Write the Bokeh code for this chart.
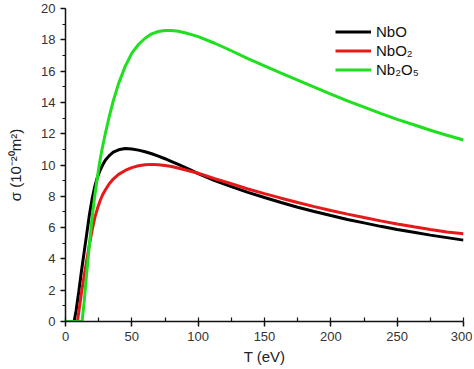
from bokeh.plotting import figure
from bokeh.models import Range1d, Legend, LegendItem, SingleIntervalTicker
from bokeh.embed import file_html
from bokeh.resources import INLINE

# Data
T_nbo = [0, 6.5, 8, 10, 12, 14, 16, 18, 20, 22, 24, 26, 28, 30, 33, 36, 40, 45, 50, 55, 60,
         65, 70, 75, 80, 85, 90, 95, 100, 112.5, 125, 137.5, 150, 162.5, 175, 187.5, 200,
         212.5, 225, 237.5, 250, 262.5, 275, 287.5, 300]
s_nbo = [0, 0, 0.7, 1.9, 3.2, 4.4, 5.6, 6.8, 7.8, 8.6, 9.2, 9.65, 10.0, 10.3, 10.6, 10.82,
         10.97, 11.05, 11.02, 10.95, 10.85, 10.72, 10.57, 10.4, 10.22, 10.04, 9.85, 9.65,
         9.45, 9.0, 8.62, 8.25, 7.92, 7.6, 7.3, 7.03, 6.77, 6.52, 6.3, 6.08, 5.88, 5.7,
         5.52, 5.36, 5.2]

T_nbo2 = [0, 9, 10, 12, 14, 16, 18, 20, 22, 24, 26, 28, 30, 33, 36, 40, 45, 50, 55, 60, 65,
          70, 75, 80, 90, 100, 112.5, 125, 137.5, 150, 162.5, 175, 187.5, 200, 212.5, 225,
          237.5, 250, 262.5, 275, 287.5, 300]
s_nbo2 = [0, 0, 0.6, 1.8, 2.9, 3.9, 4.9, 5.8, 6.6, 7.2, 7.7, 8.1, 8.4, 8.8, 9.1, 9.4, 9.65,
          9.83, 9.95, 10.02, 10.04, 10.02, 9.97, 9.9, 9.7, 9.47, 9.12, 8.8, 8.47, 8.17, 7.88,
          7.6, 7.34, 7.09, 6.86, 6.64, 6.43, 6.23, 6.05, 5.88, 5.72, 5.6]

T_nb2o5 = [0, 12.5, 14, 16, 18, 20, 22, 24, 26, 28, 30, 33, 36, 40, 45, 50, 55, 60, 65, 70,
           75, 80, 85, 90, 95, 100, 112.5, 125, 137.5, 150, 162.5, 175, 187.5, 200, 212.5,
           225, 237.5, 250, 262.5, 275, 287.5, 300]
s_nb2o5 = [0, 0, 1.2, 3.1, 4.9, 6.6, 8.0, 9.2, 10.3, 11.2, 12.0, 13.1, 14.1, 15.2, 16.3,
           17.15, 17.7, 18.1, 18.38, 18.53, 18.6, 18.6, 18.55, 18.45, 18.33, 18.2, 17.78,
           17.3, 16.8, 16.33, 15.87, 15.42, 14.97, 14.53, 14.1, 13.7, 13.3, 12.92, 12.57,
           12.22, 11.9, 11.6]

labels = ["NbO", "NbO\u2082", "Nb\u2082O\u2085"]
colors = ["#000000", "#e81818", "#1ee01e"]

FONT = "Liberation Sans"

p = figure(width=472, height=367, output_backend="svg", toolbar_location=None,
           x_range=Range1d(0, 300), y_range=Range1d(0, 20),
           min_border_left=65, min_border_right=9, min_border_top=8, min_border_bottom=46)
p.outline_line_color = None
p.xgrid.visible = False
p.ygrid.visible = False
p.background_fill_color = "white"

r1 = p.line(T_nbo, s_nbo, line_color=colors[0], line_width=3)
r2 = p.line(T_nbo2, s_nbo2, line_color=colors[1], line_width=3)
r3 = p.line(T_nb2o5, s_nb2o5, line_color=colors[2], line_width=3)

p.xaxis.ticker = SingleIntervalTicker(interval=50, num_minor_ticks=2)
p.yaxis.ticker = SingleIntervalTicker(interval=2, num_minor_ticks=2)

for ax in (p.xaxis[0], p.yaxis[0]):
    ax.axis_line_color = "#111111"
    ax.axis_line_width = 1.5
    ax.major_tick_line_color = "#111111"
    ax.minor_tick_line_color = "#111111"
    ax.major_tick_line_width = 1.5
    ax.minor_tick_line_width = 1.2
    ax.major_label_text_font = FONT
    ax.major_label_text_font_size = "13px"
    ax.major_label_text_color = "#333333"
    ax.axis_label_text_font = FONT
    ax.axis_label_text_font_size = "15px"
    ax.axis_label_text_font_style = "normal"
    ax.axis_label_text_color = "#222222"

p.xaxis.major_tick_out = 5
p.xaxis.major_tick_in = 0
p.xaxis.minor_tick_out = 0
p.xaxis.minor_tick_in = 4
p.xaxis.major_label_standoff = 5
p.xaxis.axis_label = "T (eV)"
p.xaxis.axis_label_standoff = 4

p.yaxis.major_tick_out = 5
p.yaxis.major_tick_in = 0
p.yaxis.minor_tick_out = 3
p.yaxis.minor_tick_in = 0
p.yaxis.major_label_standoff = 5
p.yaxis.axis_label = "\u03c3 (10\u207b\u00b2\u2070m\u00b2)"
p.yaxis.axis_label_standoff = 14

legend = Legend(items=[LegendItem(label=labels[0], renderers=[r1]),
                       LegendItem(label=labels[1], renderers=[r2]),
                       LegendItem(label=labels[2], renderers=[r3])],
                location=(270, 242))
legend.border_line_color = None
legend.background_fill_alpha = 0
legend.padding = 0
legend.margin = 0
legend.spacing = 0
legend.glyph_width = 36
legend.glyph_height = 19
legend.label_height = 19
legend.label_standoff = 5
legend.label_text_font = FONT
legend.label_text_font_size = "15px"
legend.label_text_color = "#111111"
p.add_layout(legend, "center")

open("out.html", "w").write(file_html(p, INLINE))
